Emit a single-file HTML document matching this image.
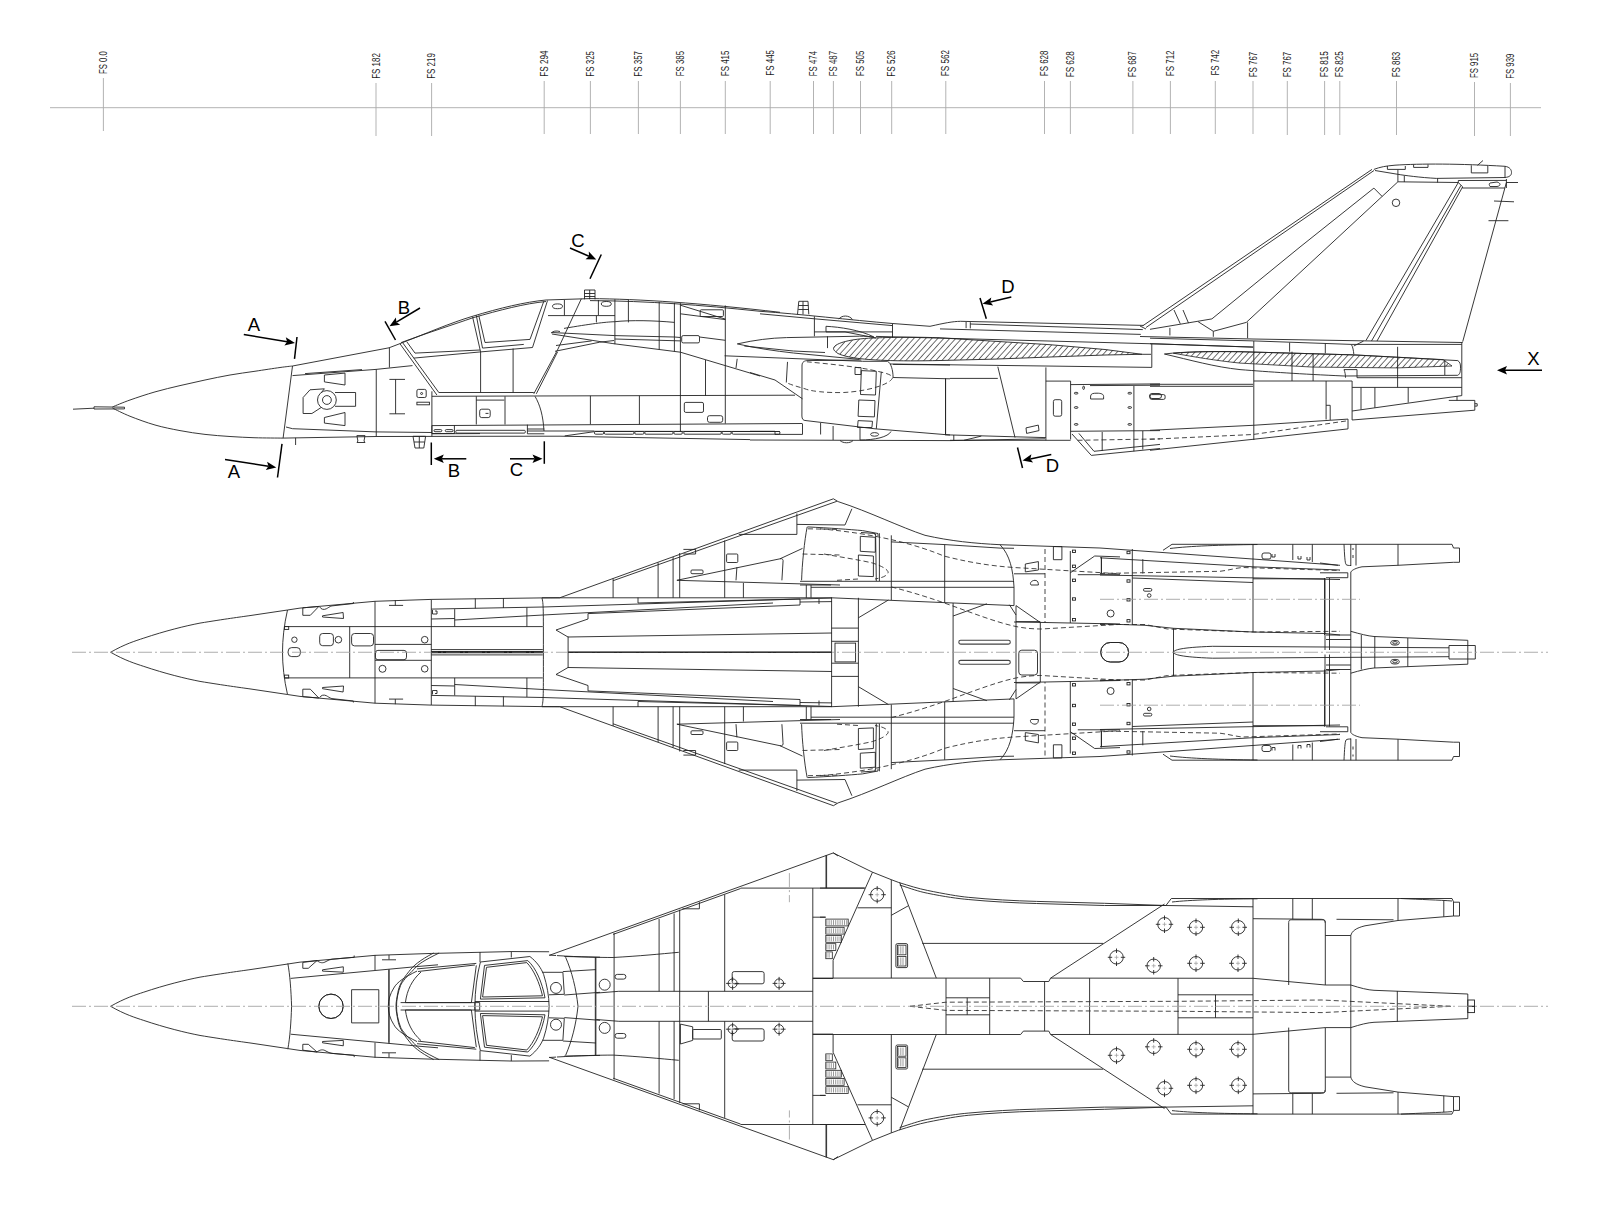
<!DOCTYPE html>
<html><head><meta charset="utf-8"><style>
html,body{margin:0;padding:0;background:#fff;width:1600px;height:1210px;overflow:hidden}
svg{display:block}
.l{fill:none;stroke:#222;stroke-width:0.9}
.g{fill:none;stroke:#aaa;stroke-width:0.9}
.d{fill:none;stroke:#333;stroke-width:0.9;stroke-dasharray:5 3}
.c{fill:none;stroke:#999;stroke-width:0.8;stroke-dasharray:14 3 2 3}
.k{fill:none;stroke:#000;stroke-width:1.5}
.a{fill:#000;stroke:none}
.h{fill:none;stroke:#444;stroke-width:0.7}
.t{font-family:"Liberation Sans",sans-serif;font-size:10px;fill:#1a1a1a}
.lab{font-family:"Liberation Sans",sans-serif;font-size:18.5px;fill:#000}
</style></head>
<body><svg width="1600" height="1210" viewBox="0 0 1600 1210">
<rect x="0" y="0" width="1600" height="1210" fill="#fff"/>
<path class="g" d="M50 107.7L1541 107.7"/>
<path class="g" d="M103.4 78L103.4 131"/>
<text class="t" x="107.0" y="74.1" transform="rotate(-90 107.0 74.1)" textLength="23" lengthAdjust="spacingAndGlyphs">FS 0.0</text>
<path class="g" d="M376 83L376 136"/>
<text class="t" x="379.6" y="78.8" transform="rotate(-90 379.6 78.8)" textLength="25.7" lengthAdjust="spacingAndGlyphs">FS 182</text>
<path class="g" d="M431.6 83L431.6 136"/>
<text class="t" x="435.2" y="78.8" transform="rotate(-90 435.2 78.8)" textLength="25.7" lengthAdjust="spacingAndGlyphs">FS 219</text>
<path class="g" d="M544.2 81L544.2 134"/>
<text class="t" x="547.8" y="76.7" transform="rotate(-90 547.8 76.7)" textLength="26.2" lengthAdjust="spacingAndGlyphs">FS 294</text>
<path class="g" d="M590.4 81L590.4 134"/>
<text class="t" x="594.0" y="76.7" transform="rotate(-90 594.0 76.7)" textLength="25.7" lengthAdjust="spacingAndGlyphs">FS 325</text>
<path class="g" d="M638.4 81L638.4 134"/>
<text class="t" x="642.0" y="76.7" transform="rotate(-90 642.0 76.7)" textLength="25.7" lengthAdjust="spacingAndGlyphs">FS 357</text>
<path class="g" d="M680.4 81L680.4 134"/>
<text class="t" x="684.0" y="76.2" transform="rotate(-90 684.0 76.2)" textLength="25.2" lengthAdjust="spacingAndGlyphs">FS 385</text>
<path class="g" d="M725.3 81L725.3 134"/>
<text class="t" x="728.9" y="76.2" transform="rotate(-90 728.9 76.2)" textLength="25.7" lengthAdjust="spacingAndGlyphs">FS 415</text>
<path class="g" d="M770.2 81L770.2 134"/>
<text class="t" x="773.8" y="75.7" transform="rotate(-90 773.8 75.7)" textLength="25.7" lengthAdjust="spacingAndGlyphs">FS 445</text>
<path class="g" d="M813.5 81L813.5 134"/>
<text class="t" x="817.1" y="76.2" transform="rotate(-90 817.1 76.2)" textLength="25.2" lengthAdjust="spacingAndGlyphs">FS 474</text>
<path class="g" d="M833.4 81L833.4 134"/>
<text class="t" x="837.0" y="76.2" transform="rotate(-90 837.0 76.2)" textLength="25.2" lengthAdjust="spacingAndGlyphs">FS 487</text>
<path class="g" d="M860.5 81L860.5 134"/>
<text class="t" x="864.1" y="76.2" transform="rotate(-90 864.1 76.2)" textLength="25.7" lengthAdjust="spacingAndGlyphs">FS 505</text>
<path class="g" d="M891.7 81L891.7 134"/>
<text class="t" x="895.3" y="76.7" transform="rotate(-90 895.3 76.7)" textLength="26.2" lengthAdjust="spacingAndGlyphs">FS 526</text>
<path class="g" d="M945.8 81L945.8 134"/>
<text class="t" x="949.4" y="76.2" transform="rotate(-90 949.4 76.2)" textLength="26.2" lengthAdjust="spacingAndGlyphs">FS 562</text>
<path class="g" d="M1044.5 81L1044.5 134"/>
<text class="t" x="1048.1" y="76.2" transform="rotate(-90 1048.1 76.2)" textLength="25.7" lengthAdjust="spacingAndGlyphs">FS 628</text>
<path class="g" d="M1070.4 81L1070.4 134"/>
<text class="t" x="1074.0" y="77.3" transform="rotate(-90 1074.0 77.3)" textLength="26.2" lengthAdjust="spacingAndGlyphs">FS 628</text>
<path class="g" d="M1132.9 81L1132.9 134"/>
<text class="t" x="1136.5" y="77.3" transform="rotate(-90 1136.5 77.3)" textLength="26.2" lengthAdjust="spacingAndGlyphs">FS 687</text>
<path class="g" d="M1170.4 81L1170.4 134"/>
<text class="t" x="1174.0" y="76.2" transform="rotate(-90 1174.0 76.2)" textLength="25.7" lengthAdjust="spacingAndGlyphs">FS 712</text>
<path class="g" d="M1215.3 81L1215.3 134"/>
<text class="t" x="1218.9" y="75.5" transform="rotate(-90 1218.9 75.5)" textLength="25.7" lengthAdjust="spacingAndGlyphs">FS 742</text>
<path class="g" d="M1253 81L1253 134"/>
<text class="t" x="1256.6" y="77.3" transform="rotate(-90 1256.6 77.3)" textLength="25.5" lengthAdjust="spacingAndGlyphs">FS 767</text>
<path class="g" d="M1287.3 81L1287.3 135"/>
<text class="t" x="1290.9" y="77.3" transform="rotate(-90 1290.9 77.3)" textLength="25.5" lengthAdjust="spacingAndGlyphs">FS 767</text>
<path class="g" d="M1324.6 81L1324.6 135"/>
<text class="t" x="1328.2" y="77.3" transform="rotate(-90 1328.2 77.3)" textLength="26.2" lengthAdjust="spacingAndGlyphs">FS 815</text>
<path class="g" d="M1339.8 81L1339.8 135"/>
<text class="t" x="1343.4" y="77.3" transform="rotate(-90 1343.4 77.3)" textLength="26.2" lengthAdjust="spacingAndGlyphs">FS 825</text>
<path class="g" d="M1396.5 81L1396.5 135"/>
<text class="t" x="1400.1" y="77.3" transform="rotate(-90 1400.1 77.3)" textLength="25.5" lengthAdjust="spacingAndGlyphs">FS 863</text>
<path class="g" d="M1474.5 82L1474.5 136"/>
<text class="t" x="1478.1" y="78.1" transform="rotate(-90 1478.1 78.1)" textLength="25.2" lengthAdjust="spacingAndGlyphs">FS 915</text>
<path class="g" d="M1510.4 83L1510.4 136"/>
<text class="t" x="1514.0" y="78.8" transform="rotate(-90 1514.0 78.8)" textLength="25.2" lengthAdjust="spacingAndGlyphs">FS 939</text>
<path class="l" d="M73 409.2L94 408.2"/>
<path class="l" d="M94 406.8 L124.5 407.2 L124.5 408.9 L94 409 Z"/>
<path class="l" d="M112.5 406.9C115.42 405.75 122.92 402.50 130 400C137.08 397.50 146.67 394.30 155 391.9C163.33 389.50 171.67 387.58 180 385.6C188.33 383.62 196.67 381.77 205 380C213.33 378.23 221.67 376.46 230 375C238.33 373.54 246.67 372.50 255 371.25C263.33 370.00 273.75 368.38 280 367.5C286.25 366.62 290.42 366.25 292.5 366L389 347.8 L399 344 C425 334 450 323 472.5 316.3 C500 308 525 302 546 300 L590 298.6 C640 299 700 303 780 312.3"/>
<path class="l" d="M112.5 408.1C115.42 409.46 122.92 413.43 130 416.25C137.08 419.07 146.67 422.61 155 425C163.33 427.39 171.67 429.03 180 430.6C188.33 432.17 196.67 433.42 205 434.4C213.33 435.38 221.67 435.94 230 436.5C238.33 437.06 246.17 437.48 255 437.75C263.83 438.02 278.33 438.04 283 438.1L376 436.5 L480 436.3"/>
<path class="l" d="M401 342.6 C430 332 455 324 472.8 317.8 C500 310 525 303.5 546 301.5"/>
<path class="l" d="M292.5 366L283.1 438.1"/>
<path class="l" d="M389.4 347.8L389.4 367.5"/>
<path class="l" d="M292.5 375.6 L376 369.4 L412.5 365.6"/>
<path class="l" d="M305 373.6 L362 369.6"/>
<path class="l" d="M376.25 369.4L376.25 436.3"/>
<path class="l" d="M292.5 428.7 L376 431.9 L432 432.5"/>
<circle class="l" cx="326.9" cy="400" r="9.4"/>
<circle class="l" cx="326.9" cy="400" r="4.4"/>
<path class="l" d="M335 392.5 L355.6 392.5 L355.6 406.3 L335 406.3"/>
<path class="l" d="M321.6 392.2 L324.4 388.8 L310 389.8 L303.1 397.5 L303.1 413.5 L311.9 413.5 L321 407.6"/>
<path class="l" d="M324.4 375 L345 373.1 L345 385 L324.4 381.9 Z"/>
<path class="l" d="M324.4 417.5 L345 412.5 L345 425.6 L324.4 423.1 Z"/>
<path class="l" d="M395.6 379.4 L395.6 413.8 M389.4 379.4 L405 379.4 M389.4 413.8 L405 413.8"/>
<rect class="l" x="416.9" y="389.4" width="9.3" height="8.1" rx="1.5"/>
<circle class="l" cx="421.6" cy="393.5" r="1"/>
<rect class="l" x="416.9" y="402.2" width="12.5" height="2.6"/>
<path class="l" d="M356.9 435.6 L365 435.6 L364 441 L365 442.5 L357 442.5 L357.9 441 Z"/>
<path class="l" d="M413 436.3 L425.6 436.3 L423.8 448 L415 448 Z M414 442 L424.6 442 M419.3 436.3 L419.3 448"/>
<path class="l" d="M400 343.8L436.9 395"/>
<path class="l" d="M402.5 342.5L438.8 392.5"/>
<path class="l" d="M406.9 341.9 L415 353.1 L480 350 M413.8 358.1 L480.6 351.9"/>
<path class="l" d="M472.5 316.5 L480.6 351.9 M476.3 315.3 L482.5 348"/>
<path class="l" d="M478.8 315.6 L485 342.5 L530 339.4 L543.8 301.3"/>
<path class="l" d="M482.5 348.1 L523.8 344.4"/>
<path class="l" d="M480.6 351.9 L532.5 347.5 L547.5 300.6"/>
<path class="l" d="M438.8 392.5 L533.8 392.5 M431.9 396.3 L795 395.2"/>
<path class="l" d="M480.6 351.9L480.6 392.5"/>
<path class="l" d="M513.1 348.5L513.1 392.5"/>
<path class="l" d="M533.8 393.8 L557.5 350 L581.3 298.8 M536.3 393.8 L557.5 352"/>
<path class="l" d="M548 315.6 L615 315.6 M564.4 300 L564.4 315.6"/>
<ellipse class="l" cx="557.5" cy="306.3" rx="5" ry="2.4"/>
<path class="l" d="M431.9 391.3L431.9 436.3"/>
<path class="l" d="M431.9 425.6 L802 423.5"/>
<path class="l" d="M594.2 431.3 L780 431.5 M431.9 433.8 L480 433.6 M286 427 L292.5 428.7 M295.6 437.8 L295.6 445"/>
<path class="l" d="M480 436.3 L560 436.2 L750 439.6"/>
<rect class="l" x="594.4" y="431.5" width="9.3" height="2.7" rx="1.3"/>
<rect class="l" x="604.3" y="431.5" width="29.7" height="2.7" rx="1.3"/>
<rect class="l" x="634.7" y="431.5" width="9.3" height="2.7" rx="1.3"/>
<rect class="l" x="644.7" y="431.5" width="28.4" height="2.7" rx="1.3"/>
<rect class="l" x="673.8" y="431.5" width="8.6" height="2.7" rx="1.3"/>
<rect class="l" x="683.7" y="431.5" width="37.7" height="2.7" rx="1.3"/>
<rect class="l" x="722" y="431.5" width="9.3" height="2.7" rx="1.3"/>
<rect class="l" x="732" y="431.5" width="48.0" height="2.7" rx="1.3"/>
<path class="k" d="M243.8 334.5L287.1 341.7"/>
<path class="a" d="M295.0 343.0L284.4 345.5L287.1 341.7L285.8 337.2Z"/>
<path class="k" d="M297 337L294.5 358.8"/>
<text class="lab" x="254" y="330.5" text-anchor="middle">A</text>
<path class="k" d="M225.0 459.5L268.4 466.3"/>
<path class="a" d="M276.3 467.5L265.8 470.1L268.4 466.3L267.1 461.8Z"/>
<path class="k" d="M282 443.8L277.5 477.5"/>
<text class="lab" x="234" y="478" text-anchor="middle">A</text>
<path class="k" d="M420.0 308.0L396.4 322.2"/>
<path class="a" d="M389.5 326.3L395.9 317.6L396.4 322.2L400.2 324.8Z"/>
<path class="k" d="M385 321.3L395.5 340"/>
<text class="lab" x="404" y="313.5" text-anchor="middle">B</text>
<path class="k" d="M466.3 458.8L441.8 458.8"/>
<path class="a" d="M433.8 458.8L443.8 454.6L441.8 458.8L443.8 463.0Z"/>
<path class="k" d="M431.3 442.5L431.3 465"/>
<text class="lab" x="454" y="476.5" text-anchor="middle">B</text>
<path class="k" d="M570.0 248.0L589.0 256.3"/>
<path class="a" d="M596.3 259.5L585.5 259.3L589.0 256.3L588.8 251.6Z"/>
<path class="k" d="M601.3 254.5L590 278.8"/>
<text class="lab" x="578" y="246.5" text-anchor="middle">C</text>
<path class="k" d="M510.0 458.8L534.5 458.8"/>
<path class="a" d="M542.5 458.8L532.5 463.0L534.5 458.8L532.5 454.6Z"/>
<path class="k" d="M544.3 441.3L544.3 463.8"/>
<text class="lab" x="516.5" y="476" text-anchor="middle">C</text>
<path class="k" d="M1011.3 297.0L990.3 302.0"/>
<path class="a" d="M982.5 303.8L991.3 297.4L990.3 302.0L993.2 305.6Z"/>
<path class="k" d="M980 298L986.3 318.8"/>
<text class="lab" x="1008" y="292.5" text-anchor="middle">D</text>
<path class="k" d="M1051.3 454.5L1030.3 458.9"/>
<path class="a" d="M1022.5 460.5L1031.4 454.3L1030.3 458.9L1033.1 462.6Z"/>
<path class="k" d="M1017.5 447.5L1022.5 468"/>
<text class="lab" x="1052.5" y="471.5" text-anchor="middle">D</text>
<path class="k" d="M1542.0 370.3L1505.0 370.3"/>
<path class="a" d="M1497.0 370.3L1507.0 366.1L1505.0 370.3L1507.0 374.5Z"/>
<text class="lab" x="1533.5" y="365" text-anchor="middle">X</text>
<path class="l" d="M584.5 299.3 L584.5 290 L595 290 L595 299.3 M589.7 290 L589.7 299.3 M584.5 293.5 L595 293.5 M584.5 296.5 L595 296.5"/>
<path class="l" d="M590 300.6 C650 301 700 305 760 311.3"/>
<ellipse class="l" cx="606.3" cy="303.9" rx="5" ry="2.4"/>
<path class="l" d="M598.4 300 L598.4 315.1 M596.4 315.8 L596.4 322.4"/>
<path class="l" d="M614.9 299.3L614.9 344.2"/>
<path class="l" d="M628.4 299.8L628.4 322.4"/>
<path class="l" d="M659.2 302L659.2 349.5"/>
<path class="l" d="M674.4 303L674.4 351.5"/>
<path class="l" d="M680.4 303.2L680.4 431.5"/>
<path class="l" d="M705.5 360L705.5 395.8"/>
<path class="l" d="M725.3 305.5L725.3 423.6"/>
<path class="l" d="M564 328.4 C590 324 605 322 614.9 321.7 C630 320 655 320.5 674.4 322.4"/>
<path class="l" d="M551.3 332.5 L614.9 335.6 L674.4 337 L680.4 337.5"/>
<path class="l" d="M551.3 333 C553 331 556 330.5 560 331.5"/>
<path class="l" d="M614.9 339 L680.4 340.9"/>
<path class="l" d="M552 334 L612.9 343.6 L680.4 352.2 L760 376"/>
<path class="l" d="M556 345.5 L591.7 340.9 M555 351.3 L599.7 342.2 L614 340.5"/>
<path class="l" d="M680.4 305.2 L725.3 319.1 M680.4 313.8 L725.3 319.6"/>
<rect class="l" x="700.2" y="309.8" width="23.2" height="6.7" rx="1"/>
<rect class="l" x="681.7" y="335.6" width="17.8" height="7.3" rx="1.5"/>
<path class="l" d="M699.5 337 L725.3 340.3"/>
<path class="l" d="M737.2 358.8 L736 368"/>
<path class="l" d="M590.4 395.8L590.4 424.3"/>
<path class="l" d="M639.4 395.8L639.4 424.3"/>
<path class="l" d="M476.3 396.3L476.3 424.5"/>
<path class="l" d="M505 396.3L505 424.5"/>
<path class="l" d="M535 396.3 C540 405 543 415 544 431"/>
<rect class="l" x="684.3" y="402.4" width="19.2" height="10" rx="1.5"/>
<rect class="l" x="707.5" y="415.7" width="15.2" height="6.6" rx="2"/>
<path class="l" d="M431.9 425.6 L431.9 433.5 L454.4 433.5 L454.4 425.2"/>
<rect class="l" x="434" y="429.6" width="7.8" height="2.1" rx="1"/><rect class="l" x="445.3" y="429.6" width="7.7" height="2.1" rx="1"/>
<rect class="l" x="455.8" y="430.3" width="69.5" height="2.8" rx="1"/>
<path class="l" d="M527.4 424.7 L527.4 433.8 L544.3 433.8 M527.4 429 L544.3 429 M527.4 431 L594.2 431 M564.7 435.9 L594.2 431.7"/>
<path class="l" d="M476.2 400.1 L504.3 400.1"/>
<rect class="l" x="479.7" y="409.2" width="10.5" height="8.4" rx="2"/>
<path class="l" d="M485.5 413.4 L488.5 413.4"/>
<path class="l" d="M760 311.3 C800 314 850 320 892.5 323.5 L930 326.3"/>
<path class="l" d="M760 313.8 L814.4 318.8 L892.5 325.6"/>
<path class="l" d="M797.5 314.4 L798.8 301.3 L808 301.3 L808.8 314.4 M803 301.3 L803 314.4 M798.5 305.5 L808.3 305.5 M798.3 309.5 L808.5 309.5"/>
<path class="l" d="M838.8 319 C842 315 849 315 852.5 319.4"/>
<path class="l" d="M814.4 316.3L814.4 336.3"/>
<path class="l" d="M892.5 323.3L892.5 337.5"/>
<path class="l" d="M814.4 331.9 L892.5 331.9"/>
<path class="l" d="M826 326.3 L826 331.9 L845 331.9 L876 338 M826 326.3 C840 327 860 330 873.8 336.9"/>
<path class="l" d="M737.3 343.9 C755 340 770 338 786.4 337.6 L859.4 336.2 C865 336.2 870 336.5 873.8 336.9"/>
<path class="l" d="M737.3 343.9 C755 348 775 351 793.4 353 L859.4 359.4 M744.3 346 L793.4 351 L825 352.5"/>
<path class="l" d="M827.5 336.3L827.5 348.1"/>
<path class="l" d="M724.6 355.8 L862.5 361.3 L887.5 361.3 C891 363 893 370 893.1 377.5"/>
<path class="l" d="M806.9 360.6 L861.3 360 M806.9 360.6 C803 361 802 363 802 366 L801.9 416 C802 419 803 420.6 806 420.6 L875 428.8"/>
<path class="d" d="M806.9 361.8 C830 364 860 367 877.5 371.3 C888 373.5 893 375.5 892.5 378 C890 384 870 391 843.8 392.5 C825 393 810 391 805 388.8 C797 386.5 790 384.5 786.3 382.5"/>
<path class="l" d="M861.3 370.6 L876.3 371.3 L875.5 395 L860.5 394.5 Z"/>
<path class="l" d="M858.8 400 L875 400.6 L874.4 416.9 L858.1 416.3 Z"/>
<path class="l" d="M858.1 420.6 L872.5 421.3 L871.9 427.5 L857.5 427.5 Z"/>
<path class="l" d="M855 367.5 L861 367.5 L861 374.5 L855 374.5 Z"/>
<path class="l" d="M881.3 371.9 L876.3 428.8"/>
<path class="l" d="M893.1 377.5 L950 378.8 M893.1 364.4 L950 365"/>
<path class="l" d="M945.6 378.8L945.6 434.4"/>
<path class="l" d="M875 428.8 L950 435"/>
<path class="l" d="M750 440 L950 440.6 L1045 438.8"/>
<path class="l" d="M840 440.5 C843 443.5 850 443.5 853 440.6"/>
<path class="l" d="M750 431.3 L775 431.3 L775 434.4 L802.5 434.4 L802.5 423.5"/>
<path class="l" d="M820.6 423L820.6 434.5"/>
<path class="l" d="M833.1 426L833.1 440"/>
<path class="l" d="M860 428L860 440"/>
<ellipse class="l" cx="874.6" cy="434.4" rx="4" ry="1.8"/>
<path class="l" d="M860 440 C875 440 888 437 891 431.5"/>
<path class="l" d="M750 372.5 L775 380 L802.5 398.8 M787.5 361.9 L786.3 382.5"/>
<defs><pattern id="hat" width="4.45" height="5" patternUnits="userSpaceOnUse" patternTransform="rotate(42)"><path d="M2.2 -1 L2.2 6" stroke="#333" stroke-width="0.75"/></pattern></defs>
<path d="M833.8 347.5 C836 343 850 339 872.5 338 C900 337 920 337 940 337.8 L995 341.3 L1050 344.7 L1105 349.5 L1142.1 354.3 L1105 355 L1050 357 L995 359.1 L940 360.5 C920 361 900 361 885 360.4 C860 359.5 845 357 838 353.5 C834 351 833 349 833.8 347.5 Z" fill="url(#hat)" stroke="#222" stroke-width="0.9"/>
<path class="l" d="M1142.1 354.3 L1151 354.3"/>
<path class="l" d="M930 326.3 C945 323 952 321.5 960.6 321.3 L1143.5 325.4"/>
<path class="l" d="M940 328.9 L1140.8 334.4 M970.3 324 L1142.8 329.6"/>
<path class="l" d="M966.1 322L966.1 328.2"/>
<path class="l" d="M970.3 322.2L970.3 328.4"/>
<path class="l" d="M876 336.4 L1160 344"/>
<path class="l" d="M890 364 L1151.8 367.4 L1151.8 344"/>
<path class="l" d="M1045.9 367.4L1045.9 440.3"/>
<path class="l" d="M997.8 366.7L1015 437.5"/>
<path class="l" d="M950 378.4 L997.8 378.4 M945.5 378.4 L945.5 434.8"/>
<path class="l" d="M1045.9 381.1 L1070.6 381.1 L1070.6 439.5"/>
<rect class="l" x="1053.4" y="399.7" width="8.3" height="16.5" rx="1.8"/>
<path class="l" d="M1026 427.9 L1038.3 425.1 L1039 430.6 L1026.6 433.4 Z"/>
<path class="l" d="M1070.6 384.6 L1160 383.9 M1090 385.6 L1160 385.2"/>
<path class="l" d="M1133.9 386L1133.9 451.3"/>
<rect class="l" x="1074.4" y="392.4" width="3.5" height="1.6" rx="0.8"/><rect class="l" x="1128" y="392.4" width="3.5" height="1.6" rx="0.8"/>
<rect class="l" x="1074.4" y="406.7" width="3.5" height="1.6" rx="0.8"/><rect class="l" x="1128" y="406.7" width="3.5" height="1.6" rx="0.8"/>
<rect class="l" x="1074.4" y="423.59999999999997" width="3.5" height="1.6" rx="0.8"/><rect class="l" x="1128" y="423.59999999999997" width="3.5" height="1.6" rx="0.8"/>
<rect class="l" x="1082.8" y="386.2" width="1.6" height="3.2" rx="0.8"/>
<path class="l" d="M1090.6 399 L1090.6 396 C1091 393.5 1093 393.2 1097 393.2 C1101 393.2 1103.6 394 1103.6 396.5 L1103.6 399 Z"/>
<rect class="l" x="1149.5" y="393.5" width="12" height="5" rx="2.5"/>
<path class="l" d="M1070.6 431.3 L1160 430.6"/>
<path class="l" d="M1072 434 L1091.3 455.4 L1160 448.5 M1078.9 433.4 L1094 451.3 L1160 444.4"/>
<path class="d" d="M1077.5 440.3 L1160 438.9"/>
<path class="l" d="M1102.2 432L1102.2 451"/>
<path class="l" d="M1142.8 431L1142.8 449.5"/>
<path class="l" d="M945 434.8 L1015 436.8 L1045.9 437.6 M950 440.3 L1070.6 440.3"/>
<path class="l" d="M953.8 435L953.8 440.3"/>
<path class="l" d="M964 440.3 L981.3 436.1"/>
<path class="l" d="M1142.6 325.9 L1372 169.4 M1146 327.5 L1374 170.5"/>
<path class="l" d="M1140 326 L1146 329"/>
<path class="l" d="M1150 329.3 L1211.9 318.9 L1300 247 L1373.9 188.1 L1382.1 196.4"/>
<path class="l" d="M1198.1 321.7 L1213.3 331.3 L1246.3 322.4 L1397.9 181.8"/>
<path class="l" d="M1213.3 331.3L1213.3 336.8"/>
<path class="l" d="M1247.6 322.4L1247.6 338.2"/>
<path class="l" d="M1169.9 327.9L1169.9 335.4"/>
<path class="l" d="M1174 310 L1180.3 323.8 M1183 310 L1188.5 323.1"/>
<circle class="l" cx="1396" cy="202.8" r="3.75"/>
<path class="l" d="M1373.9 169.4 C1380 167 1386 165.9 1395 165.2 C1420 163.5 1460 163.6 1505 166.3 C1510 167 1511.5 170 1511.5 172.5 C1511.5 175 1510 177 1505 177.5 L1436.3 178.4 C1420 177.5 1405 175.5 1397.8 174.3 L1375 170.5"/>
<path class="l" d="M1387.4 166 L1387.4 169.4 L1405.3 169.4 L1405.3 166 M1413.6 164.6 L1413.6 167.4 L1428 167.4 L1428 164.4 M1471.3 165.3 L1471.3 172.9 L1487.8 172.9 L1487.8 165.8"/>
<path class="l" d="M1477.5 165.3 L1483 160.5"/>
<path class="l" d="M1505 166.5 L1505 177.5"/>
<path class="l" d="M1397.9 169.8 L1397.9 181.8 M1404.3 175.5 L1404.3 182 M1437.6 178.4 L1437.6 182.5 M1397.9 181.8 L1458.3 182.5 L1458.3 180.5 L1506.4 180.4"/>
<path class="l" d="M1458.3 182.5 L1462.4 186.6 L1462.4 188 L1505 188"/>
<path class="l" d="M1506.4 179 L1506.4 188 M1506.4 182.5 L1518 182.5 M1494 201 L1514 201.8 M1488.5 220.7 L1508.4 220.7"/>
<path class="l" d="M1497 182 C1501 183 1501 186 1497 186.5 L1490 186.5 C1489 185 1489 183.5 1490 183 Z"/>
<path class="l" d="M1506.4 182.5 L1462.7 341.7"/>
<path class="l" d="M1458.3 182.5 L1366 340.4 M1461 185.3 L1371.5 341 M1462.4 187.3 L1377 341"/>
<path class="l" d="M1140 336.5 L1253 339 L1462.7 342.5 M1150 338.2 L1253.1 340.9 L1351.3 344.4 L1461.8 344.4 M1150 343.7 L1253.1 347.1"/>
<path class="l" d="M1160 344 L1253.1 347.1 M1351.3 344.4 C1353 347 1353.5 351 1353.8 354.1 M1363.5 341.1 L1353.8 346"/>
<path class="l" d="M1253.8 341L1253.8 440"/>
<path d="M1173.4 353.2 C1195 351.5 1215 351.5 1240 351.7 L1353.8 354.9 L1443 359.6 L1452 366 L1397.6 367.9 L1313.1 367.1 L1240 363.1 C1215 360.5 1195 357 1173.4 353.2 Z" fill="url(#hat)" stroke="#222" stroke-width="0.8"/>
<path class="l" d="M1164.4 354 C1185 351.5 1210 351.3 1240 351.7 L1353.8 354.9 L1457.8 360.6 C1460 362 1460.5 364 1460.5 367 C1460.5 372 1460 374 1457.8 375.3 L1344 376 C1300 374 1270 372 1240 369.6 C1215 367 1190 360 1164.4 354 Z"/>
<path class="l" d="M1289.6 342.6L1289.6 351.7"/>
<path class="l" d="M1325.3 343.6L1325.3 353.3"/>
<path class="l" d="M1292 351.7L1292 381"/>
<path class="l" d="M1313.1 353.3L1313.1 381"/>
<path class="l" d="M1397.6 346.8L1397.6 387.4"/>
<path class="l" d="M1444.8 360L1444.8 375"/>
<path class="l" d="M1344 369.6 L1357 369.6 L1357 377.7 M1344 369.6 C1345 372 1345.5 375 1345.5 377.7 M1357 377.7 L1461.8 377.7"/>
<path class="l" d="M1253.8 381 L1352.1 381 L1352.1 420 M1352.1 387.4 L1461.8 387.4 M1461.8 342.5 L1461.8 395.6 M1150 384.3 L1253.1 384.3 M1150 386.3 L1253.1 386.3"/>
<rect class="l" x="1150" y="394.6" width="15.1" height="4.8" rx="1.5"/>
<path class="l" d="M1150 430.3 L1253.1 425.3 L1348 419.1 L1348 428.9 L1253.1 439.3 L1150 450.3"/>
<path class="d" d="M1150 439.3 L1253.1 434.5 L1348 420.7"/>
<path class="l" d="M1326.1 381L1326.1 419.5"/>
<path class="l" d="M1326.1 405.3 L1330.2 405.3 L1330.2 420"/>
<path class="l" d="M1361 387.4L1361 409.6"/>
<path class="l" d="M1374.9 387.4L1374.9 407.8"/>
<path class="l" d="M1408.2 387.4L1408.2 402.6"/>
<path class="l" d="M1352.1 411 L1461.8 395.6 M1352.1 420 L1474.8 410.2 L1474.8 400.4 L1448.8 400.4 M1457 396 L1457 400.4 M1474.8 403.7 L1477.2 403.7 L1477.2 406.1 L1474.8 406.1"/>
<path class="l" d="M110.6 652.25 C125 644 135 641 143.8 638.1 C165 631 185 626 200 623.1 C225 619 240 617 250 615.6 L287.5 610 L300 608.1 L375 601.3 L431.3 599.4 L541.9 597.9 L559.7 597.8 L833.4 498.8 L838.1 501.6 C870 512 900 527 925 535.3 C950 541 975 543.5 1000 544.7 L1100 548 L1340 565.3"/>
<path class="l" d="M287.5 610 C284 625 282.5 640 282.5 652.25"/>
<rect class="l" x="284.4" y="626.5" width="4.3" height="2.9"/>
<path class="l" d="M375 601.3L375 652.25"/>
<path class="l" d="M431.3 599.4L431.3 652.25"/>
<path class="l" d="M541.9 597.9 C543.5 603 543.4 610 543.4 652.25"/>
<path class="l" d="M285 626.6 L542.8 626.6"/>
<path class="l" d="M349.7 626.6L349.7 652.25"/>
<path class="l" d="M431.3 649.6 L542.8 649.6"/>
<path d="M431.3 651.9 L542.8 651.9" stroke="#222" stroke-width="1.4" fill="none"/>
<path class="l" d="M431.3 609.1 L543 607 M431.3 619 L454.7 618.5 M454.7 609.1 L454.7 626.6 M454.7 620 L543 615 M541.9 597.8 L832 597.8"/>
<path class="l" d="M475.3 598.4L475.3 608.4"/>
<path class="l" d="M503.4 598.2L503.4 608"/>
<path class="l" d="M526.9 607.5L526.9 626.6"/>
<path class="l" d="M322.5 615.8 L343.1 612.5 L343.5 618.5 L322.5 617 Z"/>
<path class="l" d="M302.8 607.8 L318.8 606.5 L310.3 615.3 L302.8 615.3 Z M319.7 606.9 C321 609.5 324 610 326.3 608.8 C328 608 329.5 606.5 331.9 605.9 L353.4 603.5 L353.4 602"/>
<path class="l" d="M395.3 605.4 L395.3 600.3 M389 605.4 L403.1 605.4"/>
<path class="l" d="M432.5 610 L432.5 614 L437 614 L437 611 L435 611"/>
<path class="l" d="M613.1 580.7 L836.9 501.3"/>
<path class="l" d="M613.1 578.5L613.1 597.8"/>
<path class="l" d="M658.1 562.5L658.1 597.8"/>
<path class="l" d="M673.1 557L673.1 597.8"/>
<path class="l" d="M679.7 553L679.7 597.8"/>
<path class="l" d="M724.7 540.5L724.7 597.8"/>
<path class="l" d="M743.4 583L743.4 597.8"/>
<path class="l" d="M806.3 585L806.3 597.8"/>
<path class="l" d="M811 585L811 597.8"/>
<path class="l" d="M738.8 534.4 L796.9 534.4 L796.9 513.5 M796.9 524.4 L845 525 L851.9 508.8"/>
<path class="l" d="M807.2 526.9 C804.5 540 802 565 801.6 580.3"/>
<path class="d" d="M808 528.8 L840 529.5 M802.5 554 L840 555"/>
<path class="l" d="M676.9 580.3 L780 558.8 L802.5 548.4 M676.9 580.3 L840 585"/>
<path class="l" d="M780 558.8 C782.5 558 783.5 560 783 562 L781.9 580.3"/>
<path class="l" d="M736.9 567.2L736 580.3"/>
<rect class="l" x="726.6" y="554" width="11.2" height="8.5" rx="1"/>
<path class="l" d="M683.4 549.4 L695.6 549.4 L695.6 554 L683.4 554"/>
<rect class="l" x="691" y="570" width="12" height="3.7" rx="1"/>
<path class="l" d="M543 607 L800 599 L832 598 M638 597.6 L638 603 L800 599 M543 615 L773 603 M588 613.6 L800 605 L800 599 M800 602 L832 601.6 M819 599 L819 604"/>
<path class="l" d="M556 630 L588 619 L588 613.6 M556 630 L568 637 L832 633 M568.1 636.6 L568.1 652.25 M568.1 652.2 L831.6 652.2"/>
<path class="l" d="M831.6 597.8L831.6 652.25"/>
<path class="l" d="M807.5 526.9 C830 528 850 529.5 862.5 530.6 L878 533.5 L878 536 M891.3 541.9 L945 544.6 L1000 548.1 L1014 548.3"/>
<path class="l" d="M891.3 535.3L891.3 600"/>
<path class="l" d="M944.7 544.7L944.7 602.8"/>
<path class="l" d="M1000 544.7 C1010 555 1013 570 1014 586.9 L1014 605.6"/>
<path class="l" d="M800 581.3 L1014 581.3 M811 587.3 L1014 587.3 M800 585 L831 585 M831.6 597.8 L1014 605.6"/>
<path class="d" d="M820 528.8 C880 534 920 546 943.8 556 C975 564 1000 567 1024.4 568.1 L1120 573.8"/>
<path class="d" d="M824 554 C840 557 860 560 872.5 563 C885 567 889 571 888 573 C886 577 880 578 875 579 M837 580.3 L858 579"/>
<path class="d" d="M891.3 586.9 C915 593 930 598 943.8 602.8 C970 612 995 622 1015 626.3 C1025 628.5 1035 629 1041.3 629 L1120 624.4"/>
<path class="l" d="M860.3 536.3 L875.3 537.3 L875.3 552.2 L860.3 551.3 Z M858.4 555 L873.4 556 L873.4 576.6 L858.4 576 Z M861 532.5 L875 533.5 L875 535"/>
<path class="l" d="M875.6 533.8 L876.3 581 M879.4 533.2 L879.4 581"/>
<path class="l" d="M858.4 597.8L858.4 652.25"/>
<path class="l" d="M858.4 617.8 L888.4 600 M953.1 616 L986.9 603.8"/>
<path class="l" d="M953.1 603L953.1 652.25"/>
<path class="l" d="M1016 605.6L1016 652.25"/>
<path class="l" d="M1040.3 622.5L1040.3 652.25"/>
<path class="l" d="M1009.4 604.7 L1016 615 M1016 605.6 L1040.3 622.5 M1016 621.6 L1040.3 621.6"/>
<path class="l" d="M831.6 628.1 L858.4 628.1 M831.6 641.3 L858.4 641.3"/>
<rect x="958.8" y="640.3" width="51.5" height="3.8" rx="1.9" fill="none" stroke="#444" stroke-width="1.1"/>
<rect class="l" x="1100.8" y="642.5" width="27.7" height="19.5" rx="9.5"/>
<path class="d" d="M1045 549 L1045 622.5" stroke-dasharray="4 2"/>
<path class="l" d="M1070.3 551L1070.3 623"/>
<path class="l" d="M1053.4 559.7 L1053.4 546.6 L1061.9 546.6 L1061.9 559.7 Z"/>
<path class="l" d="M1025.3 564 L1038.4 561.6 L1038.4 570 L1025.3 571.9 Z"/>
<path class="l" d="M1031 585 C1029.5 583.5 1031 580.5 1035 580.3 C1038 580.3 1038.4 583 1038.4 585 Z"/>
<path class="l" d="M1014 573.8 L1045 573.8"/>
<rect class="l" x="1072.5" y="550.0999999999999" width="3" height="2.4"/>
<rect class="l" x="1072.5" y="565.0999999999999" width="3" height="2.4"/>
<rect class="l" x="1072.5" y="579.0999999999999" width="3" height="2.4"/>
<rect class="l" x="1072.5" y="597.8" width="3" height="2.4"/>
<rect class="l" x="1072.5" y="618.5" width="3" height="2.4"/>
<circle class="l" cx="1110.6" cy="613.5" r="3.5"/>
<path class="l" d="M1070.3 572.8 L1094.7 556 L1120 556.9 M1077.8 574.7 L1120 574.7 M1101.3 557 L1101.3 574"/>
<path class="l" d="M1014 622 L1045 622.5 L1120 624"/>
<path class="l" d="M1163 550.3 L1172 544.3 L1452 544.3 L1453.5 548 L1459.5 548 L1459.5 562.3 L1453.5 562.3 L1398 565.3 L1362 566.8 C1356 568 1352 570 1350.8 572"/>
<path class="l" d="M1170 548.5 C1190 546 1220 545 1257.5 544.5"/>
<path class="l" d="M1100 557.8 L1253 566.8 L1340 570"/>
<path class="l" d="M1132.3 549L1132.3 625"/>
<path class="l" d="M1253 544.3L1253 632"/>
<path class="l" d="M1292.8 544.3L1292.8 560"/>
<path class="l" d="M1312.3 544.3L1312.3 562"/>
<path class="l" d="M1101.5 557.8 L1101.5 573.5 M1142.8 559.2 L1142.8 573.5"/>
<path class="d" d="M1100 573.5 L1220 571.3 C1230 570 1236 568 1242.5 567.5 L1340 570.5"/>
<path class="l" d="M1100 575 L1340 579.5 M1132.3 578 L1253 582.5 M1253 578.8 L1325 578.8"/>
<path class="l" d="M1325 578L1325 650"/>
<path class="l" d="M1329.5 578L1329.5 650"/>
<rect class="l" x="1127" y="551.3" width="3" height="2.4"/>
<rect class="l" x="1127" y="579.8" width="3" height="2.4"/>
<rect class="l" x="1127" y="598.5999999999999" width="3" height="2.4"/>
<rect class="l" x="1127" y="619.5999999999999" width="3" height="2.4"/>
<rect class="l" x="1143.5" y="588.5" width="8.3" height="2.7" rx="1.3"/>
<circle class="l" cx="1149.2" cy="595.5" r="1.8"/>
<rect class="l" x="1262" y="553" width="9" height="6" rx="2"/>
<path class="l" d="M1272 554 L1272 557 L1275 557 L1275 554 M1298 556 L1298 559 L1301 559 L1301 556 M1307 557 L1307 560 L1310 560 L1310 557"/>
<path class="d" d="M1100 624.5 L1145 624.5 L1167.5 629 L1253 632 L1340 631.3"/>
<path class="l" d="M1100 623.8 L1145 625.3 L1173.5 628.3 L1253 632 L1325 633.5 L1340 635"/>
<path class="l" d="M1173.5 628.3L1173.5 652.25"/>
<path class="l" d="M1173.5 652.25 C1174 650 1180 647.5 1212.5 646.3 L1325 647 L1449 647.8"/>
<path class="l" d="M1344 544.3 C1344.5 555 1345 563 1346 564.5 C1347 565.5 1349 565.5 1351 565.5 M1350.8 544.3 L1350.8 566 M1356 544.3 L1356 565.5 M1398 544.3 L1398 565.3"/>
<path class="l" d="M1353 548 L1353 550 M1353 555 L1353 558"/>
<path class="l" d="M1320 563 L1338 565.3"/>
<path class="l" d="M1350.8 572 L1350.8 652.25 M1320 572.8 L1347.8 572.8 L1347.8 577.7 L1326 577.7"/>
<path class="l" d="M1324.5 578 L1324.5 635 M1350.8 631.3 C1360 634 1368 636 1374 636.5 L1467.8 640.3 L1467.8 652.25"/>
<path class="l" d="M1361.3 635L1361.3 652.25"/>
<path class="l" d="M1374.8 636.5L1374.8 652.25"/>
<path class="l" d="M1407.8 638L1407.8 652.25"/>
<ellipse class="l" cx="1395" cy="642.8" rx="4.3" ry="2.3"/><ellipse class="l" cx="1395" cy="642.8" rx="2.3" ry="1.2"/>
<path class="l" d="M1449 645.5 L1475.3 645.5 L1475.3 652.25 M1449 645.5 L1449 652.25"/>
<path class="l" d="M1326 635 L1350.8 635 M1326 639.5 L1350.8 639.5"/>
<g transform="translate(0 1304.5) scale(1 -1)"><path class="l" d="M110.6 652.25 C125 644 135 641 143.8 638.1 C165 631 185 626 200 623.1 C225 619 240 617 250 615.6 L287.5 610 L300 608.1 L375 601.3 L431.3 599.4 L541.9 597.9 L559.7 597.8 L833.4 498.8 L838.1 501.6 C870 512 900 527 925 535.3 C950 541 975 543.5 1000 544.7 L1100 548 L1340 565.3"/>
<path class="l" d="M287.5 610 C284 625 282.5 640 282.5 652.25"/>
<rect class="l" x="284.4" y="626.5" width="4.3" height="2.9"/>
<path class="l" d="M375 601.3L375 652.25"/>
<path class="l" d="M431.3 599.4L431.3 652.25"/>
<path class="l" d="M541.9 597.9 C543.5 603 543.4 610 543.4 652.25"/>
<path class="l" d="M285 626.6 L542.8 626.6"/>
<path class="l" d="M349.7 626.6L349.7 652.25"/>
<path class="l" d="M431.3 649.6 L542.8 649.6"/>
<path d="M431.3 651.9 L542.8 651.9" stroke="#222" stroke-width="1.4" fill="none"/>
<path class="l" d="M431.3 609.1 L543 607 M431.3 619 L454.7 618.5 M454.7 609.1 L454.7 626.6 M454.7 620 L543 615 M541.9 597.8 L832 597.8"/>
<path class="l" d="M475.3 598.4L475.3 608.4"/>
<path class="l" d="M503.4 598.2L503.4 608"/>
<path class="l" d="M526.9 607.5L526.9 626.6"/>
<path class="l" d="M322.5 615.8 L343.1 612.5 L343.5 618.5 L322.5 617 Z"/>
<path class="l" d="M302.8 607.8 L318.8 606.5 L310.3 615.3 L302.8 615.3 Z M319.7 606.9 C321 609.5 324 610 326.3 608.8 C328 608 329.5 606.5 331.9 605.9 L353.4 603.5 L353.4 602"/>
<path class="l" d="M395.3 605.4 L395.3 600.3 M389 605.4 L403.1 605.4"/>
<path class="l" d="M432.5 610 L432.5 614 L437 614 L437 611 L435 611"/>
<path class="l" d="M613.1 580.7 L836.9 501.3"/>
<path class="l" d="M613.1 578.5L613.1 597.8"/>
<path class="l" d="M658.1 562.5L658.1 597.8"/>
<path class="l" d="M673.1 557L673.1 597.8"/>
<path class="l" d="M679.7 553L679.7 597.8"/>
<path class="l" d="M724.7 540.5L724.7 597.8"/>
<path class="l" d="M743.4 583L743.4 597.8"/>
<path class="l" d="M806.3 585L806.3 597.8"/>
<path class="l" d="M811 585L811 597.8"/>
<path class="l" d="M738.8 534.4 L796.9 534.4 L796.9 513.5 M796.9 524.4 L845 525 L851.9 508.8"/>
<path class="l" d="M807.2 526.9 C804.5 540 802 565 801.6 580.3"/>
<path class="d" d="M808 528.8 L840 529.5 M802.5 554 L840 555"/>
<path class="l" d="M676.9 580.3 L780 558.8 L802.5 548.4 M676.9 580.3 L840 585"/>
<path class="l" d="M780 558.8 C782.5 558 783.5 560 783 562 L781.9 580.3"/>
<path class="l" d="M736.9 567.2L736 580.3"/>
<rect class="l" x="726.6" y="554" width="11.2" height="8.5" rx="1"/>
<path class="l" d="M683.4 549.4 L695.6 549.4 L695.6 554 L683.4 554"/>
<rect class="l" x="691" y="570" width="12" height="3.7" rx="1"/>
<path class="l" d="M543 607 L800 599 L832 598 M638 597.6 L638 603 L800 599 M543 615 L773 603 M588 613.6 L800 605 L800 599 M800 602 L832 601.6 M819 599 L819 604"/>
<path class="l" d="M556 630 L588 619 L588 613.6 M556 630 L568 637 L832 633 M568.1 636.6 L568.1 652.25 M568.1 652.2 L831.6 652.2"/>
<path class="l" d="M831.6 597.8L831.6 652.25"/>
<path class="l" d="M807.5 526.9 C830 528 850 529.5 862.5 530.6 L878 533.5 L878 536 M891.3 541.9 L945 544.6 L1000 548.1 L1014 548.3"/>
<path class="l" d="M891.3 535.3L891.3 600"/>
<path class="l" d="M944.7 544.7L944.7 602.8"/>
<path class="l" d="M1000 544.7 C1010 555 1013 570 1014 586.9 L1014 605.6"/>
<path class="l" d="M800 581.3 L1014 581.3 M811 587.3 L1014 587.3 M800 585 L831 585 M831.6 597.8 L1014 605.6"/>
<path class="d" d="M820 528.8 C880 534 920 546 943.8 556 C975 564 1000 567 1024.4 568.1 L1120 573.8"/>
<path class="d" d="M824 554 C840 557 860 560 872.5 563 C885 567 889 571 888 573 C886 577 880 578 875 579 M837 580.3 L858 579"/>
<path class="d" d="M891.3 586.9 C915 593 930 598 943.8 602.8 C970 612 995 622 1015 626.3 C1025 628.5 1035 629 1041.3 629 L1120 624.4"/>
<path class="l" d="M860.3 536.3 L875.3 537.3 L875.3 552.2 L860.3 551.3 Z M858.4 555 L873.4 556 L873.4 576.6 L858.4 576 Z M861 532.5 L875 533.5 L875 535"/>
<path class="l" d="M875.6 533.8 L876.3 581 M879.4 533.2 L879.4 581"/>
<path class="l" d="M858.4 597.8L858.4 652.25"/>
<path class="l" d="M858.4 617.8 L888.4 600 M953.1 616 L986.9 603.8"/>
<path class="l" d="M953.1 603L953.1 652.25"/>
<path class="l" d="M1016 605.6L1016 652.25"/>
<path class="l" d="M1040.3 622.5L1040.3 652.25"/>
<path class="l" d="M1009.4 604.7 L1016 615 M1016 605.6 L1040.3 622.5 M1016 621.6 L1040.3 621.6"/>
<path class="l" d="M831.6 628.1 L858.4 628.1 M831.6 641.3 L858.4 641.3"/>
<rect x="958.8" y="640.3" width="51.5" height="3.8" rx="1.9" fill="none" stroke="#444" stroke-width="1.1"/>
<rect class="l" x="1100.8" y="642.5" width="27.7" height="19.5" rx="9.5"/>
<path class="d" d="M1045 549 L1045 622.5" stroke-dasharray="4 2"/>
<path class="l" d="M1070.3 551L1070.3 623"/>
<path class="l" d="M1053.4 559.7 L1053.4 546.6 L1061.9 546.6 L1061.9 559.7 Z"/>
<path class="l" d="M1025.3 564 L1038.4 561.6 L1038.4 570 L1025.3 571.9 Z"/>
<path class="l" d="M1031 585 C1029.5 583.5 1031 580.5 1035 580.3 C1038 580.3 1038.4 583 1038.4 585 Z"/>
<path class="l" d="M1014 573.8 L1045 573.8"/>
<rect class="l" x="1072.5" y="550.0999999999999" width="3" height="2.4"/>
<rect class="l" x="1072.5" y="565.0999999999999" width="3" height="2.4"/>
<rect class="l" x="1072.5" y="579.0999999999999" width="3" height="2.4"/>
<rect class="l" x="1072.5" y="597.8" width="3" height="2.4"/>
<rect class="l" x="1072.5" y="618.5" width="3" height="2.4"/>
<circle class="l" cx="1110.6" cy="613.5" r="3.5"/>
<path class="l" d="M1070.3 572.8 L1094.7 556 L1120 556.9 M1077.8 574.7 L1120 574.7 M1101.3 557 L1101.3 574"/>
<path class="l" d="M1014 622 L1045 622.5 L1120 624"/>
<path class="l" d="M1163 550.3 L1172 544.3 L1452 544.3 L1453.5 548 L1459.5 548 L1459.5 562.3 L1453.5 562.3 L1398 565.3 L1362 566.8 C1356 568 1352 570 1350.8 572"/>
<path class="l" d="M1170 548.5 C1190 546 1220 545 1257.5 544.5"/>
<path class="l" d="M1100 557.8 L1253 566.8 L1340 570"/>
<path class="l" d="M1132.3 549L1132.3 625"/>
<path class="l" d="M1253 544.3L1253 632"/>
<path class="l" d="M1292.8 544.3L1292.8 560"/>
<path class="l" d="M1312.3 544.3L1312.3 562"/>
<path class="l" d="M1101.5 557.8 L1101.5 573.5 M1142.8 559.2 L1142.8 573.5"/>
<path class="d" d="M1100 573.5 L1220 571.3 C1230 570 1236 568 1242.5 567.5 L1340 570.5"/>
<path class="l" d="M1100 575 L1340 579.5 M1132.3 578 L1253 582.5 M1253 578.8 L1325 578.8"/>
<path class="l" d="M1325 578L1325 650"/>
<path class="l" d="M1329.5 578L1329.5 650"/>
<rect class="l" x="1127" y="551.3" width="3" height="2.4"/>
<rect class="l" x="1127" y="579.8" width="3" height="2.4"/>
<rect class="l" x="1127" y="598.5999999999999" width="3" height="2.4"/>
<rect class="l" x="1127" y="619.5999999999999" width="3" height="2.4"/>
<rect class="l" x="1143.5" y="588.5" width="8.3" height="2.7" rx="1.3"/>
<circle class="l" cx="1149.2" cy="595.5" r="1.8"/>
<rect class="l" x="1262" y="553" width="9" height="6" rx="2"/>
<path class="l" d="M1272 554 L1272 557 L1275 557 L1275 554 M1298 556 L1298 559 L1301 559 L1301 556 M1307 557 L1307 560 L1310 560 L1310 557"/>
<path class="d" d="M1100 624.5 L1145 624.5 L1167.5 629 L1253 632 L1340 631.3"/>
<path class="l" d="M1100 623.8 L1145 625.3 L1173.5 628.3 L1253 632 L1325 633.5 L1340 635"/>
<path class="l" d="M1173.5 628.3L1173.5 652.25"/>
<path class="l" d="M1173.5 652.25 C1174 650 1180 647.5 1212.5 646.3 L1325 647 L1449 647.8"/>
<path class="l" d="M1344 544.3 C1344.5 555 1345 563 1346 564.5 C1347 565.5 1349 565.5 1351 565.5 M1350.8 544.3 L1350.8 566 M1356 544.3 L1356 565.5 M1398 544.3 L1398 565.3"/>
<path class="l" d="M1353 548 L1353 550 M1353 555 L1353 558"/>
<path class="l" d="M1320 563 L1338 565.3"/>
<path class="l" d="M1350.8 572 L1350.8 652.25 M1320 572.8 L1347.8 572.8 L1347.8 577.7 L1326 577.7"/>
<path class="l" d="M1324.5 578 L1324.5 635 M1350.8 631.3 C1360 634 1368 636 1374 636.5 L1467.8 640.3 L1467.8 652.25"/>
<path class="l" d="M1361.3 635L1361.3 652.25"/>
<path class="l" d="M1374.8 636.5L1374.8 652.25"/>
<path class="l" d="M1407.8 638L1407.8 652.25"/>
<ellipse class="l" cx="1395" cy="642.8" rx="4.3" ry="2.3"/><ellipse class="l" cx="1395" cy="642.8" rx="2.3" ry="1.2"/>
<path class="l" d="M1449 645.5 L1475.3 645.5 L1475.3 652.25 M1449 645.5 L1449 652.25"/>
<path class="l" d="M1326 635 L1350.8 635 M1326 639.5 L1350.8 639.5"/></g>
<circle class="l" cx="294.4" cy="639.7" r="2.7"/>
<circle class="l" cx="338.4" cy="639.7" r="3.3"/>
<circle class="l" cx="424.7" cy="639.7" r="3.3"/>
<circle class="l" cx="382.5" cy="668.8" r="3.5"/>
<circle class="l" cx="424.7" cy="668.8" r="3.3"/>
<rect class="l" x="319.7" y="633.5" width="13.7" height="12.2" rx="3"/><rect class="l" x="351.6" y="633.5" width="21.9" height="12.4" rx="3"/>
<rect class="l" x="288.2" y="647.6" width="12.2" height="9" rx="3.5"/><rect class="l" x="375.4" y="650.4" width="31.1" height="9.3" rx="2.5"/>
<path class="l" d="M375 644.4 L431.3 644.4 M375 660.3 L431.3 660.3"/>
<path d="M431.3 651.9 L542.8 651.9" stroke="#111" stroke-width="1.3" fill="none"/>
<rect class="l" x="835" y="643.1" width="20.6" height="18.8"/>
<rect class="l" x="1018.8" y="650.2" width="18.7" height="24.8" rx="3"/>
<path class="c" d="M72 652.25 L1548 652.25"/>
<path d="M568 652.25 L832 652.25 M431.3 652 L542.8 652" stroke="#222" stroke-width="1" fill="none"/>
<path class="c" d="M1100 599.3 L1360 599.3 M1100 705.2 L1360 705.2"/>
<g transform="translate(0 354.05)">
<path class="l" d="M110.6 652.25 C125 644 135 641 143.8 638.1 C165 631 185 626 200 623.1 C225 619 240 617 250 615.6 L287.5 610 L300 608.1 L375 601.3 L431.3 599.4 L511.9 597.5 L549.1 597.7"/>
</g>
<path class="l" d="M287.8 963.4 C290 975 291 990 291.6 1006.3"/>
<path class="l" d="M290.6 978.4 L420 966.3 L438 964.8"/>
<path class="l" d="M375 955L375 970"/>
<path class="l" d="M389 969L389 1006.3"/>
<path class="l" d="M480 952L480 962"/>
<path class="l" d="M511.3 951.5L511.3 957.5"/>
<circle class="l" cx="331" cy="1006.3" r="12.2"/>
<path class="l" d="M351.6 989.7 L378.8 989.7 L378.8 1006.3 M351.6 989.7 L351.6 1006.3"/>
<path class="l" d="M302.8 962.4 L317 960.6 L308.3 968.3 L302.8 968.3 Z M317 960.6 C320 963 323 963.5 326 961.5 C328 960.3 330 959.5 332 959.2 L354.2 957.3 L354.2 955.5"/>
<path class="l" d="M322.5 969.8 L343.3 966.8 L343.3 972.2 L322.5 971.1 Z"/>
<path class="l" d="M389 955 L389 959.5 M382 959.8 L396 959.8"/>
<path class="l" d="M439.1 953 C425 960 418 964 414.4 968.9 C407 976 402 982 400.6 985.4 C398 992 396.5 1000 396.5 1006.3"/>
<path class="l" d="M433.6 953 C420 960 413 966 408.9 971.6 C402 980 399 986 397.9 992.3 C397 997 396 1002 396 1006.3"/>
<path class="l" d="M417.1 971 C405 977 397 982 393.8 988 C390 994 388.3 1000 388.3 1006.3"/>
<path class="l" d="M417 968.9 L476.3 963.4 M418 971.5 L474.9 965"/>
<path class="l" d="M421 972 C412 980 407 990 405.4 1002.6 L471.4 1002.6 L476.3 965.4"/>
<path class="l" d="M480.4 962 L529.9 956.5 C537 962 541 968 543.6 974.4 C547 985 549 996 549.1 1006.3"/>
<path class="l" d="M480.4 962 C477 975 475 990 474.9 1006.3"/>
<path class="l" d="M484.5 965.4 L527.8 960.6 C536 968 542 982 545 997.8 L480.4 999.1 L484.5 965.4"/>
<path class="l" d="M486.5 967.3 L526.8 962.6 C534 970 539.5 983 542.5 995.8 L482.6 997 L486.5 967.3"/>
<path class="l" d="M400.6 1002.6 L474.9 1002.6 M474.9 1001.5 L549.1 1001.5"/>
<path class="l" d="M474.9 1006.3 L474.9 1002.6 L479.7 1002.6 L479.7 1006.3"/>
<path class="l" d="M388.9 970 L388.9 1006.3"/>
<path class="l" d="M542.3 972.3 L562.9 972.3 L564.3 994.3 L549 994.8"/>
<circle class="l" cx="556" cy="987.9" r="5.5"/>
<path class="l" d="M565.6 957.2 C572 972 576 988 578 1006.3"/>
<path class="l" d="M562.9 971.6 L595.9 969.6 M595.9 957.2 L595.9 1006.3 M564.3 995 L600 992.3"/>
<path class="l" d="M549.4 955.3 L833.4 852.9 L838 856"/>
<path class="l" d="M613.1 934.4 L740.6 888.5"/>
<path class="l" d="M549.1 955.1 L556 955.5 M564.3 956.5 L600 957.2"/>
<path class="l" d="M556.9 955.6 C580 957 600 957.5 613.1 957.5 C640 956 660 954 678.8 952.3"/>
<path class="l" d="M595.3 957L595.3 1006.3"/>
<path class="l" d="M614.1 933.1L614.1 1006.3"/>
<path class="l" d="M659.1 919L659.1 991.3"/>
<path class="l" d="M674.1 913.5L674.1 991.3"/>
<path class="l" d="M679.7 909.7L679.7 1006.3"/>
<path class="l" d="M724.7 894.7L724.7 991.3"/>
<path class="l" d="M812.8 888.1L812.8 1006.3"/>
<path class="l" d="M826 855.3L826 888.1"/>
<path class="l" d="M708.4 991.3L708.4 1006.3"/>
<path class="l" d="M740.6 888.1 L864.5 888.1 M596.3 993.1 L618.8 991.3 L812.8 991.3"/>
<path class="l" d="M812.8 917.2 L825.6 917.2 M812.8 978.5 L833.1 978.5"/>
<path class="l" d="M682.5 908.8 L699.4 908.8 L699.4 902.2"/>
<path class="c" d="M789.4 873.1 L789.4 902.2"/>
<rect class="l" x="732.2" y="971.6" width="31.9" height="12.2" rx="2"/>
<circle class="l" cx="732.6" cy="983.4" r="4.5"/>
<path class="l" d="M726.1 983.4L730.6 983.4M734.6 983.4L739.1 983.4M732.6 976.9L732.6 981.4M732.6 985.4L732.6 989.9"/>
<path d="M730.6 983.4L734.6 983.4M732.6 981.4L732.6 985.4" stroke="#999" stroke-width="0.7" fill="none"/>
<circle class="l" cx="779.1" cy="983.4" r="4.5"/>
<path class="l" d="M772.6 983.4L777.1 983.4M781.1 983.4L785.6 983.4M779.1 976.9L779.1 981.4M779.1 985.4L779.1 989.9"/>
<path d="M777.1 983.4L781.1 983.4M779.1 981.4L779.1 985.4" stroke="#999" stroke-width="0.7" fill="none"/>
<circle class="l" cx="604.7" cy="984.7" r="5.5"/>
<rect class="l" x="615" y="974.4" width="10.9" height="4.7" rx="2.3"/>
<rect x="825.8" y="919.1" width="22.4" height="6.8" fill="none" stroke="#222" stroke-width="0.8"/>
<path d="M826.9 920.1L826.9 924.9M829.1 920.1L829.1 924.9M831.3 920.1L831.3 924.9M833.5 920.1L833.5 924.9M835.7 920.1L835.7 924.9M837.9 920.1L837.9 924.9M840.1 920.1L840.1 924.9M842.3 920.1L842.3 924.9M844.5 920.1L844.5 924.9M846.7 920.1L846.7 924.9" stroke="#555" stroke-width="0.6"/>
<rect x="825.8" y="927.3000000000001" width="18.3" height="6.8" fill="none" stroke="#222" stroke-width="0.8"/>
<path d="M826.9 928.3000000000001L826.9 933.1M829.1 928.3000000000001L829.1 933.1M831.3 928.3000000000001L831.3 933.1M833.5 928.3000000000001L833.5 933.1M835.7 928.3000000000001L835.7 933.1M837.9 928.3000000000001L837.9 933.1M840.1 928.3000000000001L840.1 933.1M842.3 928.3000000000001L842.3 933.1" stroke="#555" stroke-width="0.6"/>
<rect x="825.8" y="935.5" width="15.5" height="6.8" fill="none" stroke="#222" stroke-width="0.8"/>
<path d="M826.9 936.5L826.9 941.3M829.1 936.5L829.1 941.3M831.3 936.5L831.3 941.3M833.5 936.5L833.5 941.3M835.7 936.5L835.7 941.3M837.9 936.5L837.9 941.3M840.1 936.5L840.1 941.3" stroke="#555" stroke-width="0.6"/>
<rect x="825.8" y="943.7" width="10" height="6.8" fill="none" stroke="#222" stroke-width="0.8"/>
<path d="M826.9 944.7L826.9 949.5M829.1 944.7L829.1 949.5M831.3 944.7L831.3 949.5M833.5 944.7L833.5 949.5" stroke="#555" stroke-width="0.6"/>
<rect x="825.8" y="951.9" width="6.5" height="6.8" fill="none" stroke="#222" stroke-width="0.8"/>
<path d="M826.9 952.9L826.9 957.6999999999999M829.1 952.9L829.1 957.6999999999999" stroke="#555" stroke-width="0.6"/>
<rect class="l" x="895.9" y="943.6" width="11.7" height="24" rx="1.5"/>
<rect x="897.5" y="945.2" width="8.5" height="9.6" fill="none" stroke="#222" stroke-width="0.8"/>
<path d="M898.6 946.2L898.6 953.8000000000001M900.8 946.2L900.8 953.8000000000001M903.0 946.2L903.0 953.8000000000001" stroke="#555" stroke-width="0.6"/>
<rect x="897.5" y="956.4000000000001" width="8.5" height="9.6" fill="none" stroke="#222" stroke-width="0.8"/>
<path d="M898.6 957.4000000000001L898.6 965.0000000000001M900.8 957.4000000000001L900.8 965.0000000000001M903.0 957.4000000000001L903.0 965.0000000000001" stroke="#555" stroke-width="0.6"/>
<path class="l" d="M833.1 852.9 L872.5 872.2 L891.3 879.7 L898.8 882.5 C910 886 918 888.5 927.3 890.4 C945 894 958 896.3 968.2 897.3 C990 899.5 1015 900.8 1036.4 901.4 L1104.5 903.3 L1165.9 905.5 L1253.1 906.8"/>
<path class="l" d="M899.7 885 C912 889 918 891.3 927.3 893.2 C945 896.8 958 898.6 968.2 899.5 C990 901.6 1015 902.9 1036.4 903.5 L1104.5 905.5 L1165.9 905.5"/>
<path class="l" d="M826.6 855.3L826.6 888.1"/>
<path class="l" d="M820 888.1 L865 888.1"/>
<path class="l" d="M872.5 872.2 L833.1 960.3 L833.1 978.1 M857.5 907.8 L891.3 907.8 M891.3 879.7 L891.3 978.1 M899.7 882.5 L936.3 978.1 M891.3 915.3 L908.1 905.9"/>
<path class="l" d="M820 917.2 L825.6 917.2"/>
<circle class="l" cx="877.2" cy="894.7" r="6.6"/>
<path class="l" d="M868.6 894.7L873.1 894.7M881.3 894.7L885.8 894.7M877.2 886.1L877.2 890.6M877.2 898.8L877.2 903.3"/>
<path d="M875.2 894.7L879.2 894.7M877.2 892.7L877.2 896.7" stroke="#999" stroke-width="0.7" fill="none"/>
<path class="l" d="M812.8 978.1 L1020.6 978.1 L1023.4 981.5 L1048.8 981.5 L1050.6 978.1 L1253 978.3"/>
<path class="l" d="M922.2 943.4 L1103.1 943.4"/>
<path class="l" d="M1050.6 978.1 L1164.5 904"/>
<path class="l" d="M946 978.1L946 1006.3"/>
<path class="l" d="M989.7 978.1L989.7 1006.3"/>
<path class="l" d="M1044.6 981.5L1044.6 1006.3"/>
<path class="l" d="M1089.6 978.1L1089.6 1006.3"/>
<path class="l" d="M967.2 997.8L967.2 1006.3"/>
<path class="l" d="M946 997.8 L989.7 997.8"/>
<path class="d" d="M910 1006.3 L946 1002.2 L1180 1001.3 L1322 1000 L1452 1006.3"/>
<path class="l" d="M1165.9 905.5 L1171.3 898.5 L1452 898.5 L1453.5 901.8 L1453.5 916 L1398 920.5 L1365 925.8 C1356 928 1352 931 1350.8 935.5"/>
<path class="l" d="M1453.5 902.2 L1459.5 902.2 L1459.5 916 L1453.5 916"/>
<path class="l" d="M1172 902 C1190 900 1220 899 1257.5 898.8"/>
<path class="l" d="M1253 898.5L1253 1006.3"/>
<path class="l" d="M1292.8 898.5L1292.8 919"/>
<path class="l" d="M1312.3 898.5L1312.3 919.3"/>
<path class="l" d="M1178 978.3L1178 1006.3"/>
<path class="l" d="M1215.5 994.8L1215.5 1006.3"/>
<path class="l" d="M1178 994.8 L1253 994.8"/>
<path class="l" d="M1253 918.7 L1320 919.3 C1324 919.3 1325.3 920 1325.3 922 L1325.3 985 L1253 978.3"/>
<path class="l" d="M1288.7 985 L1288.7 922.5 C1288.7 920.5 1289.5 919.8 1291.5 919.8 L1322 919.8 C1324.5 919.8 1325 920.5 1325 922.5"/>
<path class="l" d="M1325.3 935.5 L1350.8 935.5 L1350.8 1006.3 M1325.3 985 L1350.8 985 C1360 988 1368 990 1374 990.3 L1467.8 994 L1467.8 1006.3"/>
<path class="l" d="M1397.3 991L1397.3 1006.3"/>
<path class="l" d="M1398 898.5L1398 920.5"/>
<path class="l" d="M1443.8 900.5L1443.8 916.8"/>
<path class="l" d="M1336.5 919.3 L1393.5 919.8 M1401 898.5 C1420 899.5 1440 900 1452 901"/>
<rect class="l" x="1467.8" y="1000" width="6.7" height="6.3"/>
<circle class="l" cx="1164.5" cy="924.3" r="6.75"/>
<path class="l" d="M1155.8 924.3L1160.2 924.3M1168.8 924.3L1173.2 924.3M1164.5 915.5L1164.5 920.0M1164.5 928.5L1164.5 933.0"/>
<path d="M1162.5 924.3L1166.5 924.3M1164.5 922.3L1164.5 926.3" stroke="#999" stroke-width="0.7" fill="none"/>
<circle class="l" cx="1196" cy="927.3" r="6.75"/>
<path class="l" d="M1187.2 927.3L1191.8 927.3M1200.2 927.3L1204.8 927.3M1196 918.5L1196 923.0M1196 931.5L1196 936.0"/>
<path d="M1194 927.3L1198 927.3M1196 925.3L1196 929.3" stroke="#999" stroke-width="0.7" fill="none"/>
<circle class="l" cx="1238.3" cy="927.3" r="6.75"/>
<path class="l" d="M1229.5 927.3L1234.0 927.3M1242.5 927.3L1247.0 927.3M1238.3 918.5L1238.3 923.0M1238.3 931.5L1238.3 936.0"/>
<path d="M1236.3 927.3L1240.3 927.3M1238.3 925.3L1238.3 929.3" stroke="#999" stroke-width="0.7" fill="none"/>
<circle class="l" cx="1116.5" cy="957.3" r="6.75"/>
<path class="l" d="M1107.8 957.3L1112.2 957.3M1120.8 957.3L1125.2 957.3M1116.5 948.5L1116.5 953.0M1116.5 961.5L1116.5 966.0"/>
<path d="M1114.5 957.3L1118.5 957.3M1116.5 955.3L1116.5 959.3" stroke="#999" stroke-width="0.7" fill="none"/>
<circle class="l" cx="1153.7" cy="965.8" r="6.75"/>
<path class="l" d="M1145.0 965.8L1149.5 965.8M1158.0 965.8L1162.5 965.8M1153.7 957.0L1153.7 961.5M1153.7 970.0L1153.7 974.5"/>
<path d="M1151.7 965.8L1155.7 965.8M1153.7 963.8L1153.7 967.8" stroke="#999" stroke-width="0.7" fill="none"/>
<circle class="l" cx="1196" cy="963.3" r="6.75"/>
<path class="l" d="M1187.2 963.3L1191.8 963.3M1200.2 963.3L1204.8 963.3M1196 954.5L1196 959.0M1196 967.5L1196 972.0"/>
<path d="M1194 963.3L1198 963.3M1196 961.3L1196 965.3" stroke="#999" stroke-width="0.7" fill="none"/>
<circle class="l" cx="1238" cy="963.3" r="6.75"/>
<path class="l" d="M1229.2 963.3L1233.8 963.3M1242.2 963.3L1246.8 963.3M1238 954.5L1238 959.0M1238 967.5L1238 972.0"/>
<path d="M1236 963.3L1240 963.3M1238 961.3L1238 965.3" stroke="#999" stroke-width="0.7" fill="none"/>
<path d="M1030 892.5 C1055 894.5 1080 896 1100 896.5" fill="none"/>
<g transform="translate(0 2012.6) scale(1 -1)"><g transform="translate(0 354.05)">
<path class="l" d="M110.6 652.25 C125 644 135 641 143.8 638.1 C165 631 185 626 200 623.1 C225 619 240 617 250 615.6 L287.5 610 L300 608.1 L375 601.3 L431.3 599.4 L511.9 597.5 L549.1 597.7"/>
</g>
<path class="l" d="M287.8 963.4 C290 975 291 990 291.6 1006.3"/>
<path class="l" d="M290.6 978.4 L420 966.3 L438 964.8"/>
<path class="l" d="M375 955L375 970"/>
<path class="l" d="M389 969L389 1006.3"/>
<path class="l" d="M480 952L480 962"/>
<path class="l" d="M511.3 951.5L511.3 957.5"/>
<circle class="l" cx="331" cy="1006.3" r="12.2"/>
<path class="l" d="M351.6 989.7 L378.8 989.7 L378.8 1006.3 M351.6 989.7 L351.6 1006.3"/>
<path class="l" d="M302.8 962.4 L317 960.6 L308.3 968.3 L302.8 968.3 Z M317 960.6 C320 963 323 963.5 326 961.5 C328 960.3 330 959.5 332 959.2 L354.2 957.3 L354.2 955.5"/>
<path class="l" d="M322.5 969.8 L343.3 966.8 L343.3 972.2 L322.5 971.1 Z"/>
<path class="l" d="M389 955 L389 959.5 M382 959.8 L396 959.8"/>
<path class="l" d="M439.1 953 C425 960 418 964 414.4 968.9 C407 976 402 982 400.6 985.4 C398 992 396.5 1000 396.5 1006.3"/>
<path class="l" d="M433.6 953 C420 960 413 966 408.9 971.6 C402 980 399 986 397.9 992.3 C397 997 396 1002 396 1006.3"/>
<path class="l" d="M417.1 971 C405 977 397 982 393.8 988 C390 994 388.3 1000 388.3 1006.3"/>
<path class="l" d="M417 968.9 L476.3 963.4 M418 971.5 L474.9 965"/>
<path class="l" d="M421 972 C412 980 407 990 405.4 1002.6 L471.4 1002.6 L476.3 965.4"/>
<path class="l" d="M480.4 962 L529.9 956.5 C537 962 541 968 543.6 974.4 C547 985 549 996 549.1 1006.3"/>
<path class="l" d="M480.4 962 C477 975 475 990 474.9 1006.3"/>
<path class="l" d="M484.5 965.4 L527.8 960.6 C536 968 542 982 545 997.8 L480.4 999.1 L484.5 965.4"/>
<path class="l" d="M486.5 967.3 L526.8 962.6 C534 970 539.5 983 542.5 995.8 L482.6 997 L486.5 967.3"/>
<path class="l" d="M400.6 1002.6 L474.9 1002.6 M474.9 1001.5 L549.1 1001.5"/>
<path class="l" d="M474.9 1006.3 L474.9 1002.6 L479.7 1002.6 L479.7 1006.3"/>
<path class="l" d="M388.9 970 L388.9 1006.3"/>
<path class="l" d="M542.3 972.3 L562.9 972.3 L564.3 994.3 L549 994.8"/>
<circle class="l" cx="556" cy="987.9" r="5.5"/>
<path class="l" d="M565.6 957.2 C572 972 576 988 578 1006.3"/>
<path class="l" d="M562.9 971.6 L595.9 969.6 M595.9 957.2 L595.9 1006.3 M564.3 995 L600 992.3"/>
<path class="l" d="M549.4 955.3 L833.4 852.9 L838 856"/>
<path class="l" d="M613.1 934.4 L740.6 888.5"/>
<path class="l" d="M549.1 955.1 L556 955.5 M564.3 956.5 L600 957.2"/>
<path class="l" d="M556.9 955.6 C580 957 600 957.5 613.1 957.5 C640 956 660 954 678.8 952.3"/>
<path class="l" d="M595.3 957L595.3 1006.3"/>
<path class="l" d="M614.1 933.1L614.1 1006.3"/>
<path class="l" d="M659.1 919L659.1 991.3"/>
<path class="l" d="M674.1 913.5L674.1 991.3"/>
<path class="l" d="M679.7 909.7L679.7 1006.3"/>
<path class="l" d="M724.7 894.7L724.7 991.3"/>
<path class="l" d="M812.8 888.1L812.8 1006.3"/>
<path class="l" d="M826 855.3L826 888.1"/>
<path class="l" d="M708.4 991.3L708.4 1006.3"/>
<path class="l" d="M740.6 888.1 L864.5 888.1 M596.3 993.1 L618.8 991.3 L812.8 991.3"/>
<path class="l" d="M812.8 917.2 L825.6 917.2 M812.8 978.5 L833.1 978.5"/>
<path class="l" d="M682.5 908.8 L699.4 908.8 L699.4 902.2"/>
<path class="c" d="M789.4 873.1 L789.4 902.2"/>
<rect class="l" x="732.2" y="971.6" width="31.9" height="12.2" rx="2"/>
<circle class="l" cx="732.6" cy="983.4" r="4.5"/>
<path class="l" d="M726.1 983.4L730.6 983.4M734.6 983.4L739.1 983.4M732.6 976.9L732.6 981.4M732.6 985.4L732.6 989.9"/>
<path d="M730.6 983.4L734.6 983.4M732.6 981.4L732.6 985.4" stroke="#999" stroke-width="0.7" fill="none"/>
<circle class="l" cx="779.1" cy="983.4" r="4.5"/>
<path class="l" d="M772.6 983.4L777.1 983.4M781.1 983.4L785.6 983.4M779.1 976.9L779.1 981.4M779.1 985.4L779.1 989.9"/>
<path d="M777.1 983.4L781.1 983.4M779.1 981.4L779.1 985.4" stroke="#999" stroke-width="0.7" fill="none"/>
<circle class="l" cx="604.7" cy="984.7" r="5.5"/>
<rect class="l" x="615" y="974.4" width="10.9" height="4.7" rx="2.3"/>
<rect x="825.8" y="919.1" width="22.4" height="6.8" fill="none" stroke="#222" stroke-width="0.8"/>
<path d="M826.9 920.1L826.9 924.9M829.1 920.1L829.1 924.9M831.3 920.1L831.3 924.9M833.5 920.1L833.5 924.9M835.7 920.1L835.7 924.9M837.9 920.1L837.9 924.9M840.1 920.1L840.1 924.9M842.3 920.1L842.3 924.9M844.5 920.1L844.5 924.9M846.7 920.1L846.7 924.9" stroke="#555" stroke-width="0.6"/>
<rect x="825.8" y="927.3000000000001" width="18.3" height="6.8" fill="none" stroke="#222" stroke-width="0.8"/>
<path d="M826.9 928.3000000000001L826.9 933.1M829.1 928.3000000000001L829.1 933.1M831.3 928.3000000000001L831.3 933.1M833.5 928.3000000000001L833.5 933.1M835.7 928.3000000000001L835.7 933.1M837.9 928.3000000000001L837.9 933.1M840.1 928.3000000000001L840.1 933.1M842.3 928.3000000000001L842.3 933.1" stroke="#555" stroke-width="0.6"/>
<rect x="825.8" y="935.5" width="15.5" height="6.8" fill="none" stroke="#222" stroke-width="0.8"/>
<path d="M826.9 936.5L826.9 941.3M829.1 936.5L829.1 941.3M831.3 936.5L831.3 941.3M833.5 936.5L833.5 941.3M835.7 936.5L835.7 941.3M837.9 936.5L837.9 941.3M840.1 936.5L840.1 941.3" stroke="#555" stroke-width="0.6"/>
<rect x="825.8" y="943.7" width="10" height="6.8" fill="none" stroke="#222" stroke-width="0.8"/>
<path d="M826.9 944.7L826.9 949.5M829.1 944.7L829.1 949.5M831.3 944.7L831.3 949.5M833.5 944.7L833.5 949.5" stroke="#555" stroke-width="0.6"/>
<rect x="825.8" y="951.9" width="6.5" height="6.8" fill="none" stroke="#222" stroke-width="0.8"/>
<path d="M826.9 952.9L826.9 957.6999999999999M829.1 952.9L829.1 957.6999999999999" stroke="#555" stroke-width="0.6"/>
<rect class="l" x="895.9" y="943.6" width="11.7" height="24" rx="1.5"/>
<rect x="897.5" y="945.2" width="8.5" height="9.6" fill="none" stroke="#222" stroke-width="0.8"/>
<path d="M898.6 946.2L898.6 953.8000000000001M900.8 946.2L900.8 953.8000000000001M903.0 946.2L903.0 953.8000000000001" stroke="#555" stroke-width="0.6"/>
<rect x="897.5" y="956.4000000000001" width="8.5" height="9.6" fill="none" stroke="#222" stroke-width="0.8"/>
<path d="M898.6 957.4000000000001L898.6 965.0000000000001M900.8 957.4000000000001L900.8 965.0000000000001M903.0 957.4000000000001L903.0 965.0000000000001" stroke="#555" stroke-width="0.6"/>
<path class="l" d="M833.1 852.9 L872.5 872.2 L891.3 879.7 L898.8 882.5 C910 886 918 888.5 927.3 890.4 C945 894 958 896.3 968.2 897.3 C990 899.5 1015 900.8 1036.4 901.4 L1104.5 903.3 L1165.9 905.5 L1253.1 906.8"/>
<path class="l" d="M899.7 885 C912 889 918 891.3 927.3 893.2 C945 896.8 958 898.6 968.2 899.5 C990 901.6 1015 902.9 1036.4 903.5 L1104.5 905.5 L1165.9 905.5"/>
<path class="l" d="M826.6 855.3L826.6 888.1"/>
<path class="l" d="M820 888.1 L865 888.1"/>
<path class="l" d="M872.5 872.2 L833.1 960.3 L833.1 978.1 M857.5 907.8 L891.3 907.8 M891.3 879.7 L891.3 978.1 M899.7 882.5 L936.3 978.1 M891.3 915.3 L908.1 905.9"/>
<path class="l" d="M820 917.2 L825.6 917.2"/>
<circle class="l" cx="877.2" cy="894.7" r="6.6"/>
<path class="l" d="M868.6 894.7L873.1 894.7M881.3 894.7L885.8 894.7M877.2 886.1L877.2 890.6M877.2 898.8L877.2 903.3"/>
<path d="M875.2 894.7L879.2 894.7M877.2 892.7L877.2 896.7" stroke="#999" stroke-width="0.7" fill="none"/>
<path class="l" d="M812.8 978.1 L1020.6 978.1 L1023.4 981.5 L1048.8 981.5 L1050.6 978.1 L1253 978.3"/>
<path class="l" d="M922.2 943.4 L1103.1 943.4"/>
<path class="l" d="M1050.6 978.1 L1164.5 904"/>
<path class="l" d="M946 978.1L946 1006.3"/>
<path class="l" d="M989.7 978.1L989.7 1006.3"/>
<path class="l" d="M1044.6 981.5L1044.6 1006.3"/>
<path class="l" d="M1089.6 978.1L1089.6 1006.3"/>
<path class="l" d="M967.2 997.8L967.2 1006.3"/>
<path class="l" d="M946 997.8 L989.7 997.8"/>
<path class="d" d="M910 1006.3 L946 1002.2 L1180 1001.3 L1322 1000 L1452 1006.3"/>
<path class="l" d="M1165.9 905.5 L1171.3 898.5 L1452 898.5 L1453.5 901.8 L1453.5 916 L1398 920.5 L1365 925.8 C1356 928 1352 931 1350.8 935.5"/>
<path class="l" d="M1453.5 902.2 L1459.5 902.2 L1459.5 916 L1453.5 916"/>
<path class="l" d="M1172 902 C1190 900 1220 899 1257.5 898.8"/>
<path class="l" d="M1253 898.5L1253 1006.3"/>
<path class="l" d="M1292.8 898.5L1292.8 919"/>
<path class="l" d="M1312.3 898.5L1312.3 919.3"/>
<path class="l" d="M1178 978.3L1178 1006.3"/>
<path class="l" d="M1215.5 994.8L1215.5 1006.3"/>
<path class="l" d="M1178 994.8 L1253 994.8"/>
<path class="l" d="M1253 918.7 L1320 919.3 C1324 919.3 1325.3 920 1325.3 922 L1325.3 985 L1253 978.3"/>
<path class="l" d="M1288.7 985 L1288.7 922.5 C1288.7 920.5 1289.5 919.8 1291.5 919.8 L1322 919.8 C1324.5 919.8 1325 920.5 1325 922.5"/>
<path class="l" d="M1325.3 935.5 L1350.8 935.5 L1350.8 1006.3 M1325.3 985 L1350.8 985 C1360 988 1368 990 1374 990.3 L1467.8 994 L1467.8 1006.3"/>
<path class="l" d="M1397.3 991L1397.3 1006.3"/>
<path class="l" d="M1398 898.5L1398 920.5"/>
<path class="l" d="M1443.8 900.5L1443.8 916.8"/>
<path class="l" d="M1336.5 919.3 L1393.5 919.8 M1401 898.5 C1420 899.5 1440 900 1452 901"/>
<rect class="l" x="1467.8" y="1000" width="6.7" height="6.3"/>
<circle class="l" cx="1164.5" cy="924.3" r="6.75"/>
<path class="l" d="M1155.8 924.3L1160.2 924.3M1168.8 924.3L1173.2 924.3M1164.5 915.5L1164.5 920.0M1164.5 928.5L1164.5 933.0"/>
<path d="M1162.5 924.3L1166.5 924.3M1164.5 922.3L1164.5 926.3" stroke="#999" stroke-width="0.7" fill="none"/>
<circle class="l" cx="1196" cy="927.3" r="6.75"/>
<path class="l" d="M1187.2 927.3L1191.8 927.3M1200.2 927.3L1204.8 927.3M1196 918.5L1196 923.0M1196 931.5L1196 936.0"/>
<path d="M1194 927.3L1198 927.3M1196 925.3L1196 929.3" stroke="#999" stroke-width="0.7" fill="none"/>
<circle class="l" cx="1238.3" cy="927.3" r="6.75"/>
<path class="l" d="M1229.5 927.3L1234.0 927.3M1242.5 927.3L1247.0 927.3M1238.3 918.5L1238.3 923.0M1238.3 931.5L1238.3 936.0"/>
<path d="M1236.3 927.3L1240.3 927.3M1238.3 925.3L1238.3 929.3" stroke="#999" stroke-width="0.7" fill="none"/>
<circle class="l" cx="1116.5" cy="957.3" r="6.75"/>
<path class="l" d="M1107.8 957.3L1112.2 957.3M1120.8 957.3L1125.2 957.3M1116.5 948.5L1116.5 953.0M1116.5 961.5L1116.5 966.0"/>
<path d="M1114.5 957.3L1118.5 957.3M1116.5 955.3L1116.5 959.3" stroke="#999" stroke-width="0.7" fill="none"/>
<circle class="l" cx="1153.7" cy="965.8" r="6.75"/>
<path class="l" d="M1145.0 965.8L1149.5 965.8M1158.0 965.8L1162.5 965.8M1153.7 957.0L1153.7 961.5M1153.7 970.0L1153.7 974.5"/>
<path d="M1151.7 965.8L1155.7 965.8M1153.7 963.8L1153.7 967.8" stroke="#999" stroke-width="0.7" fill="none"/>
<circle class="l" cx="1196" cy="963.3" r="6.75"/>
<path class="l" d="M1187.2 963.3L1191.8 963.3M1200.2 963.3L1204.8 963.3M1196 954.5L1196 959.0M1196 967.5L1196 972.0"/>
<path d="M1194 963.3L1198 963.3M1196 961.3L1196 965.3" stroke="#999" stroke-width="0.7" fill="none"/>
<circle class="l" cx="1238" cy="963.3" r="6.75"/>
<path class="l" d="M1229.2 963.3L1233.8 963.3M1242.2 963.3L1246.8 963.3M1238 954.5L1238 959.0M1238 967.5L1238 972.0"/>
<path d="M1236 963.3L1240 963.3M1238 961.3L1238 965.3" stroke="#999" stroke-width="0.7" fill="none"/>
<path d="M1030 892.5 C1055 894.5 1080 896 1100 896.5" fill="none"/></g>
<path class="c" d="M72 1006.3 L1548 1006.3"/>
<path class="l" d="M680.4 1024.1 L692.7 1026.8 L692.7 1040.4 L680.4 1044 Z"/>
<rect class="l" x="692.7" y="1029.5" width="28.6" height="9.5" rx="1"/>
</svg></body></html>
